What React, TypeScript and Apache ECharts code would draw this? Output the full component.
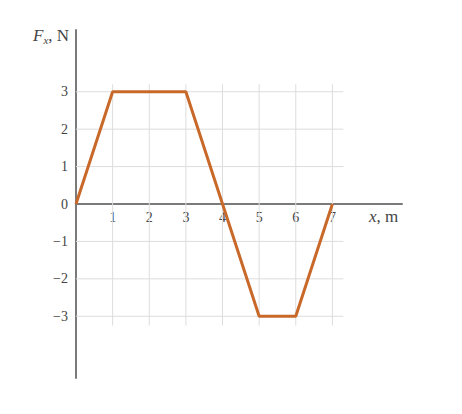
import React, { useEffect, useRef } from 'react';
import * as echarts from 'echarts';

// force vs position
const xValues = [0, 1, 3, 4, 5, 6, 7];
const forceValues = [0, 3, 3, 0, -3, -3, 0];
const xTickLabels = [1, 2, 3, 4, 5, 6, 7];
const yTickLabels = [3, 2, 1, 0, -1, -2, -3];
const gridXs = [1, 2, 3, 4, 5, 6, 7];
const gridYs = [3, 2, 1, -1, -2, -3];

const FONT = '"Liberation Serif", "DejaVu Serif", serif';

const App: React.FC = () => {
  const chartRef = useRef<HTMLDivElement>(null);

  useEffect(() => {
    if (!chartRef.current) return;
    const chart = echarts.init(chartRef.current, undefined, { renderer: 'svg' });

    // light grid segments, broken apart with '-'
    const gridData: any[] = [];
    gridXs.forEach((x) => {
      gridData.push([x, -3.25], [x, 3.2], '-');
    });
    gridYs.forEach((y) => {
      gridData.push([0, y], [7.3, y], '-');
    });

    chart.setOption({
      animation: false,
      grid: { left: 76, right: 60, top: 30, bottom: 36 },
      xAxis: {
        type: 'value',
        min: 0,
        max: 8.9,
        // y range is symmetric, so zero sits half a grid height above the bottom
        offset: -174,
        axisLine: { show: true, onZero: false, lineStyle: { color: '#7a7a7a', width: 2 } },
        axisTick: { show: false },
        splitLine: { show: false },
        axisLabel: {
          customValues: xTickLabels,
          margin: 6,
          fontFamily: FONT,
          fontSize: 14,
          color: '#444',
        },
      },
      yAxis: {
        type: 'value',
        min: -4.65,
        max: 4.65,
        axisLine: { show: true, onZero: true, lineStyle: { color: '#7a7a7a', width: 2 } },
        axisTick: { show: false },
        splitLine: { show: false },
        axisLabel: {
          customValues: yTickLabels,
          margin: 8,
          fontFamily: FONT,
          fontSize: 14,
          color: '#444',
          formatter: (v: number) => (v < 0 ? '\u2212' + Math.abs(v) : String(v)),
        },
      },
      series: [
        {
          type: 'line',
          data: gridData,
          symbol: 'none',
          connectNulls: false,
          silent: true,
          z: 1,
          lineStyle: { color: '#dddddd', width: 1 },
        },
        {
          type: 'line',
          data: xValues.map((x, i) => [x, forceValues[i]]),
          symbol: 'none',
          z: 3,
          lineStyle: { color: '#c8692a', width: 3 },
        },
      ],
      graphic: [
        {
          type: 'text',
          left: 33,
          top: 27,
          style: {
            text: '{i|F}{s|x}{n|, N}',
            rich: {
              i: { fontFamily: FONT, fontStyle: 'italic', fontSize: 17, fill: '#444' },
              s: { fontFamily: FONT, fontStyle: 'italic', fontSize: 11, fill: '#444', verticalAlign: 'bottom', padding: [9, 0, 0, 0] },
              n: { fontFamily: FONT, fontSize: 17, fill: '#444' },
            },
          },
        },
        {
          type: 'text',
          left: 369,
          top: 208,
          style: {
            text: '{i|x}{n|, m}',
            rich: {
              i: { fontFamily: FONT, fontStyle: 'italic', fontSize: 17, fill: '#444' },
              n: { fontFamily: FONT, fontSize: 17, fill: '#444' },
            },
          },
        },
      ],
    });

    return () => {
      chart.dispose();
    };
  }, []);

  return (
    <div
      ref={chartRef}
      style={{ position: 'absolute', left: 0, top: 0, width: 462, height: 414 }}
    />
  );
};

export default App;
